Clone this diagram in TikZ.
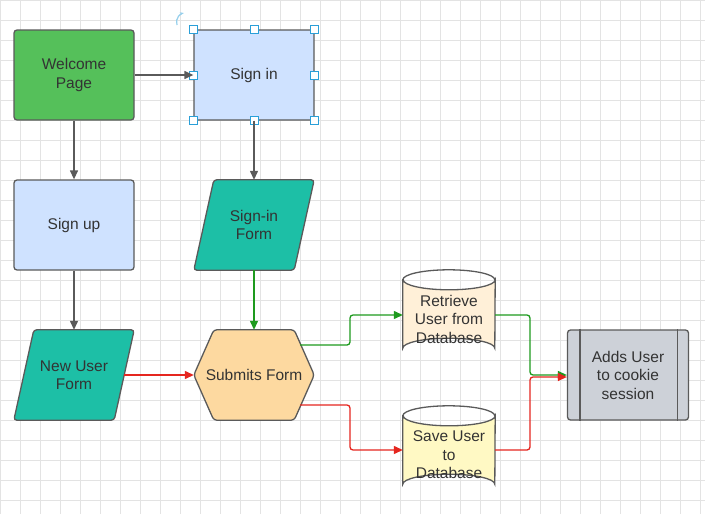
\documentclass[tikz,border=0pt]{standalone}
\usepackage{fontspec}
\setmainfont{Liberation Sans}
\usetikzlibrary{arrows.meta,calc,positioning}
\definecolor{gridc}{HTML}{E3E3E3}
\definecolor{edgec}{HTML}{5A5A5A}
\definecolor{greenf}{HTML}{55C05A}
\definecolor{bluef}{HTML}{CFE2FF}
\definecolor{tealf}{HTML}{1DBFA6}
\definecolor{orangef}{HTML}{FDD9A0}
\definecolor{creamf}{HTML}{FFF0D8}
\definecolor{yellowf}{HTML}{FFF9C4}
\definecolor{grayf}{HTML}{CDD1D8}
\definecolor{selc}{HTML}{2A9FD8}
\definecolor{gline}{HTML}{1E9A1E}
\definecolor{rline}{HTML}{E5261F}
\tikzset{
  box/.style={draw=edgec,line width=1.3pt,rounded corners=3pt,minimum width=120pt,minimum height=90pt,align=center,text=black!80},
  shp/.style={minimum width=120pt,minimum height=90pt,align=center,text=black!80},
  outl/.style={draw=edgec,line width=1.3pt,rounded corners=3pt},
  flow/.style={-{Triangle[length=9pt,width=8pt]},line width=1.3pt,draw=edgec},
  gflow/.style={flow,draw=gline,rounded corners=3pt},
  rflow/.style={flow,draw=rline,rounded corners=3pt},
  handle/.style={draw=selc,fill=white,line width=0.8pt,minimum size=8pt,inner sep=0pt}
}
\begin{document}
\begin{tikzpicture}[x=1pt,y=-1pt,font=\fontsize{15.5}{18.5}\selectfont]
\useasboundingbox (0,0) rectangle (705,514);
\fill[white] (0,0) rectangle (705,514);
\draw[gridc,line width=0.6pt,step=20pt] (0,0) grid (705,514);
% nodes
\node[box,fill=greenf] (welcome) at (74,75) {Welcome\\Page};
\node[box,fill=bluef,rounded corners=1pt] (signin) at (254,75) {Sign in};
\node[box,fill=bluef] (signup) at (74,225) {Sign up};
\node[shp] (sform) at (254,225) {Sign-in\\Form};
\node[shp] (nform) at (74,375) {New User\\Form};
\node[shp] (submit) at (254,375) {};
\node[shp,minimum width=92pt,minimum height=88pt] (retrieve) at (449,314) {};
\node[shp,minimum width=92pt,minimum height=88pt] (save) at (449,450) {};
\node[box,fill=grayf,minimum width=121pt] (adds) at (628,375) {Adds User\\to cookie\\session};
% parallelograms, hexagon, cylinders
\foreach \n in {sform,nform}
  \filldraw[outl,fill=tealf] ($(\n.north west)+(20,0)$) -- (\n.north east)
    -- ($(\n.south east)+(-20,0)$) -- (\n.south west) -- cycle;
\node[align=center,text=black!80] at (sform) {Sign-in\\Form};
\node[align=center,text=black!80] at (nform) {New User\\Form};
\filldraw[outl,fill=orangef] (submit.west) -- ($(submit.north west)+(20,0)$)
  -- ($(submit.north east)+(-20,0)$) -- (submit.east)
  -- ($(submit.south east)+(-20,0)$) -- ($(submit.south west)+(20,0)$) -- cycle;
\node[text=black!80] at (submit) {Submits Form};
\foreach \n/\c in {retrieve/creamf,save/yellowf}{
  \filldraw[draw=edgec,line width=1.3pt,fill=\c] ($(\n.north west)+(0,10)$)
    -- ($(\n.south west)+(0,-10)$)
    arc[start angle=180,end angle=0,x radius=46pt,y radius=10pt]
    -- ($(\n.north east)+(0,10)$)
    arc[start angle=0,end angle=-180,x radius=46pt,y radius=10pt] -- cycle;
  \draw[edgec,line width=1.3pt] ($(\n.north west)+(0,10)$)
    arc[start angle=180,end angle=0,x radius=46pt,y radius=10pt];
}
\node[align=center,text=black!80] at ($(retrieve)+(0,5)$) {Retrieve\\User from\\Database};
\node[align=center,text=black!80] at ($(save)+(0,5)$) {Save User\\to\\Database};
\draw[edgec,line width=1.3pt] ($(adds.north west)+(13,0)$) -- ($(adds.south west)+(13,0)$)
  ($(adds.north east)+(-12,0)$) -- ($(adds.south east)+(-12,0)$);
% selection handles
\foreach \a in {north west,north,north east,west,east,south west,south,south east}
  \node[handle] at (signin.\a) {};
\draw[selc!50,line width=1.2pt,-{Stealth[length=4pt]}] (177,25) arc[start angle=200,end angle=100,radius=9pt];
% connectors
\draw[flow] (welcome) -- (signin.west);
\draw[flow] (welcome) -- (signup);
\draw[flow] (signin) -- (sform);
\draw[flow] (signup) -- (nform);
\draw[flow,draw=rline] ($(nform.east)+(-10,0)$) -- (submit.west);
\draw[flow,draw=gline] (sform) -- (submit.north);
\draw[gflow] ($(submit.east)+(-14,-30)$) -| (350,315) -- (retrieve.west|-0,315);
\draw[rflow] ($(submit.east)+(-14,30)$) -| (350,450) -- (save.west);
\draw[gflow] (retrieve.east|-0,315) -| (530,375) -- (adds.west);
\draw[rflow] (save.east) -| (530,377) -- (adds.west|-0,377);
\end{tikzpicture}
\end{document}
